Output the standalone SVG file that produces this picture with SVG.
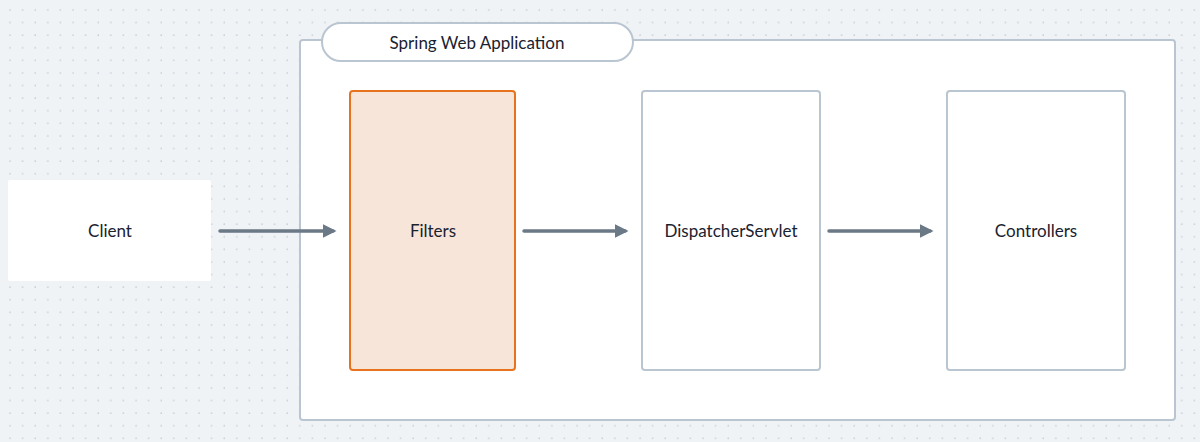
<svg xmlns="http://www.w3.org/2000/svg" width="1200" height="442" viewBox="0 0 1200 442">
<defs>
<pattern id="dots" width="12.6" height="12.6" patternUnits="userSpaceOnUse" x="4" y="4"><circle cx="6" cy="6" r="0.8" fill="#c3cad3"/></pattern>
<marker id="ah" markerWidth="4" markerHeight="4" refX="3" refY="2" orient="auto" markerUnits="strokeWidth"><path d="M0,0 L4,2 L0,4 Z" fill="#6b7886"/></marker>
<style>
.box{fill:#fff;stroke:#b9c5d0;stroke-width:2}
.t{font-family:Lato,"Noto Sans",sans-serif;font-size:17px;fill:#1a2230;text-anchor:middle}
.c{stroke:#6b7886;stroke-width:3.5;fill:none;stroke-linecap:round;marker-end:url(#ah)}
</style>
</defs>
<rect width="1200" height="442" fill="#f0f3f6"/>
<rect width="1200" height="442" fill="url(#dots)"/>
<g id="app">
<rect x="300" y="40" width="875" height="380" rx="3" class="box"/>
<rect x="322" y="23" width="311" height="38" rx="19" class="box"/>
<text x="477" y="49" class="t">Spring Web Application</text>
</g>
<g id="client"><rect x="8" y="180" width="203" height="101" rx="2" fill="#fff"/><text x="110" y="237" class="t">Client</text></g>
<g id="filters"><rect x="350" y="91" width="165" height="279" rx="3" fill="#f8e5d9" stroke="#e8731f" stroke-width="2"/><text x="433" y="237" class="t">Filters</text></g>
<g id="dispatcher"><rect x="642" y="91" width="178" height="279" rx="3" class="box"/><text x="731" y="237" class="t">DispatcherServlet</text></g>
<g id="controllers"><rect x="947" y="91" width="178" height="279" rx="3" class="box"/><text x="1036" y="237" class="t">Controllers</text></g>
<g id="connectors">
<line x1="220" y1="231" x2="333" y2="231" class="c"/>
<line x1="524" y1="231" x2="625" y2="231" class="c"/>
<line x1="829" y1="231" x2="930" y2="231" class="c"/>
</g>
</svg>
